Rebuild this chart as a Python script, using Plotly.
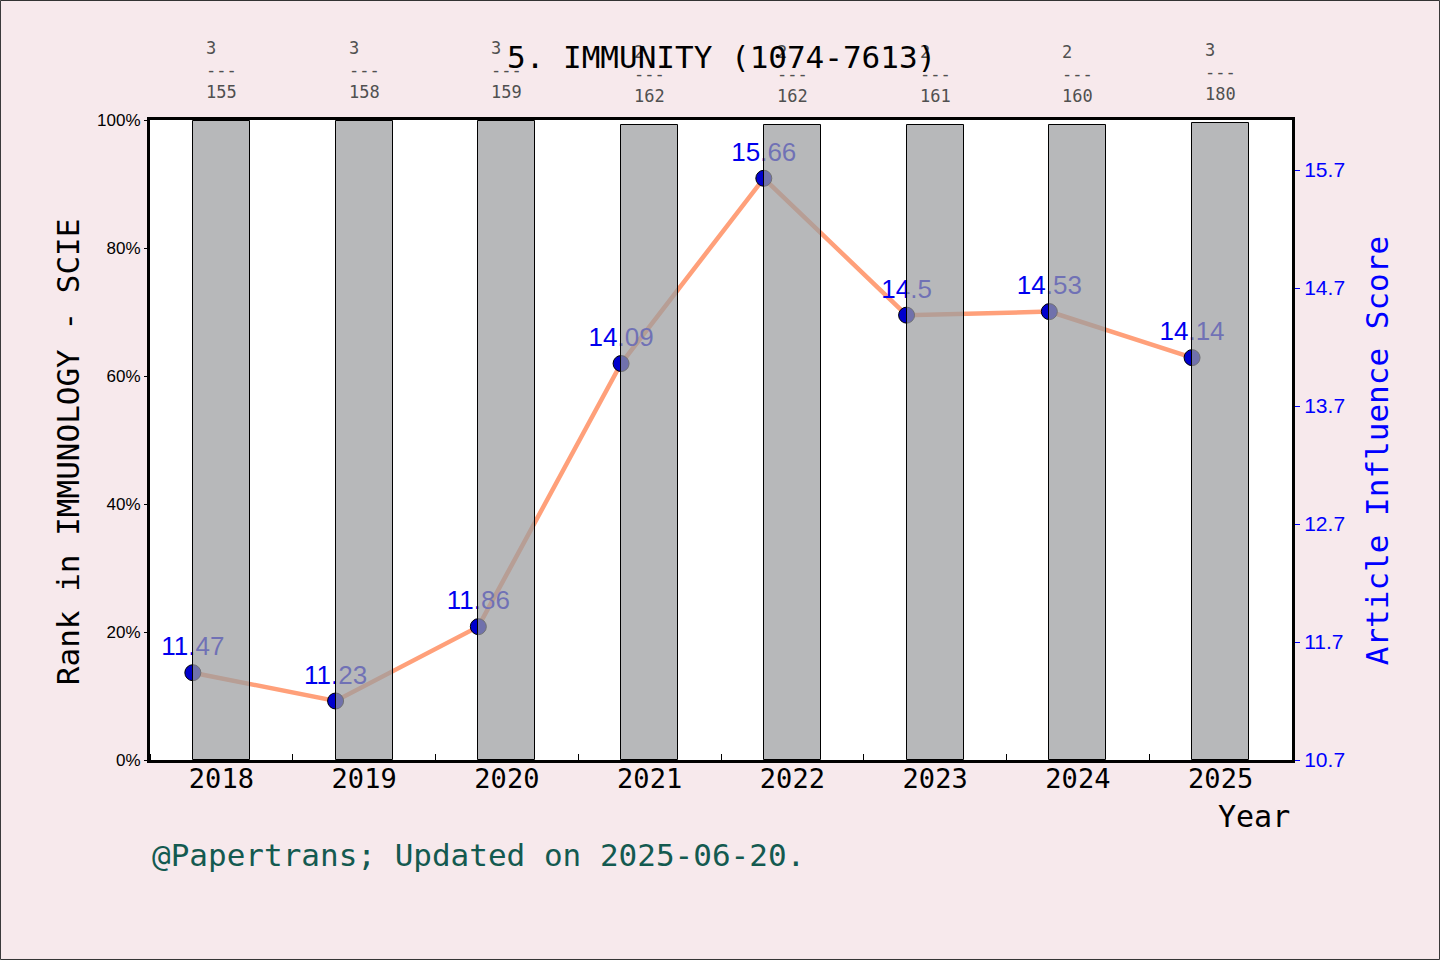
import plotly.graph_objects as go

years = ["2018", "2019", "2020", "2021", "2022", "2023", "2024", "2025"]
rank_pct = [0.998, 0.998, 0.998, 0.992, 0.992, 0.992, 0.992, 0.996]
rank_num = ["3", "3", "3", "2", "2", "2", "2", "3"]
rank_den = ["155", "158", "159", "162", "162", "161", "160", "180"]
ais = [11.47, 11.23, 11.86, 14.09, 15.66, 14.5, 14.53, 14.14]
right_tickvals = [10.73, 11.73, 12.73, 13.73, 14.73, 15.73]
right_ticktext = ["10.7", "11.7", "12.7", "13.7", "14.7", "15.7"]

MONO = "DejaVu Sans Mono"
SANS = "Liberation Sans, Arial"

xs = list(range(len(years)))
line_x = [x - 0.2 for x in xs]

fig = go.Figure()

fig.add_trace(go.Scatter(
    x=line_x, y=ais, yaxis="y", mode="lines+markers+text",
    line=dict(color="#FFA07A", width=4.5),
    marker=dict(size=16, color="#0000CD", line=dict(color="black", width=1)),
    text=[f"{v:g}" for v in ais], textposition="top center",
    textfont=dict(family=SANS, size=26, color="#0000EE"),
    showlegend=False, cliponaxis=False,
))

fig.add_trace(go.Bar(
    x=xs, y=rank_pct, yaxis="y2", width=0.4,
    marker=dict(color="rgba(155,156,159,0.72)", line=dict(color="black", width=1)),
    showlegend=False,
))

annotations = []
for i in xs:
    annotations.append(dict(
        x=i, y=rank_pct[i], xref="x", yref="y2", yanchor="bottom", xanchor="center",
        yshift=17, align="left", showarrow=False,
        text=f"{rank_num[i]}<br>---<br>{rank_den[i]}",
        font=dict(family=MONO, size=17, color="#505050"),
    ))

annotations += [
    dict(x=-0.0718, y=0.481, xref="paper", yref="paper", textangle=-90, showarrow=False,
         text="Rank in IMMUNOLOGY - SCIE", font=dict(family=MONO, size=31, color="black"),
         xanchor="center", yanchor="middle"),
    dict(x=1.0744, y=0.484, xref="paper", yref="paper", textangle=-90, showarrow=False,
         text="Article Influence Score", font=dict(family=MONO, size=31, color="#0000FF"),
         xanchor="center", yanchor="middle"),
    dict(x=1.0, y=-0.089, xref="paper", yref="paper", showarrow=False,
         text="Year", font=dict(family=MONO, size=30, color="black"),
         xanchor="right", yanchor="middle"),
    dict(x=0.0, y=-0.148, xref="paper", yref="paper", showarrow=False,
         text="@Papertrans; Updated on 2025-06-20.", font=dict(family=MONO, size=31, color="#145A50"),
         xanchor="left", yanchor="middle"),
    dict(x=0.5, y=1.098, xref="paper", yref="paper", showarrow=False,
         text="5. IMMUNITY (1074-7613)", font=dict(family=MONO, size=31, color="black"),
         xanchor="center", yanchor="middle"),
]

fig.update_layout(
    width=1440, height=960,
    margin=dict(l=150, r=148, t=120, b=200),
    paper_bgcolor="#F7E9EC", plot_bgcolor="white",
    bargap=0,
    xaxis=dict(
        range=[-0.5, 7.5], tickvals=xs, ticktext=years, ticks="", ticklen=0,
        ticklabelstandoff=-7,
        tickfont=dict(family=MONO, size=27, color="black"),
        showline=True, linecolor="black", linewidth=3, mirror=True,
        showgrid=False, zeroline=False,
        minor=dict(tick0=0.5, dtick=1, ticks="inside", ticklen=6, tickcolor="black", tickwidth=1, showgrid=False),
    ),
    yaxis=dict(
        side="right", range=[10.73, 16.154], tickvals=right_tickvals, ticktext=right_ticktext,
        tickfont=dict(family=SANS, size=21, color="#0000FF"),
        ticks="outside", ticklen=5, tickcolor="#0000FF",
        showline=True, linecolor="black", linewidth=3, mirror=True,
        showgrid=False, zeroline=False,
    ),
    yaxis2=dict(
        overlaying="y", side="left", range=[0, 1], tickformat=".0%",
        tickvals=[0, 0.2, 0.4, 0.6, 0.8, 1.0],
        tickfont=dict(family=SANS, size=17, color="black"),
        ticks="outside", ticklen=5, tickcolor="black",
        showgrid=False, zeroline=False, showline=False,
    ),
    annotations=annotations,
    shapes=[dict(type="rect", xref="paper", yref="paper",
                 x0=-150/1142 + 0.0004, x1=1 + 148/1142 - 0.0004,
                 y0=-200/640 + 0.0008, y1=1 + 120/640 - 0.0008,
                 line=dict(color="#333333", width=1), layer="below")],
)

fig.write_html("out.html")
